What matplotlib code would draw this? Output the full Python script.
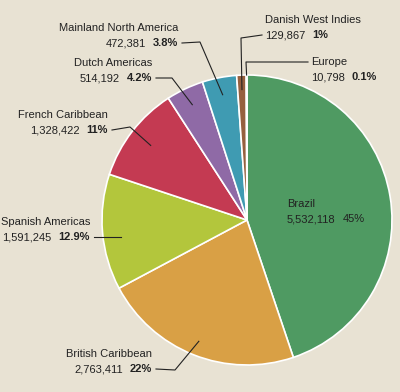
import numpy as np
import matplotlib.pyplot as plt

regions = ["Brazil", "British Caribbean", "Spanish Americas", "French Caribbean",
           "Dutch Americas", "Mainland North America", "Danish West Indies", "Europe"]
counts = [5532118, 2763411, 1591245, 1328422, 514192, 472381, 129867, 10798]
pct_labels = ["45%", "22%", "12.9%", "11%", "4.2%", "3.8%", "1%", "0.1%"]
colors = ["#4f9a62", "#d9a045", "#b3c63c", "#c43a52", "#8f6aa6", "#3f9bb2", "#96603e", "#c9a070"]

W, H = 400, 392
cx, cy, R = 247, H - 220, 145

plt.rcParams["font.family"] = ["Liberation Sans", "DejaVu Sans"]

fig = plt.figure(figsize=(4, 3.92), dpi=100, facecolor="#e8e2d3")
ax = fig.add_axes([0, 0, 1, 1])

wedges, _ = ax.pie(counts, colors=colors, startangle=90, counterclock=False,
                   center=(cx, cy), radius=R, frame=True,
                   wedgeprops=dict(edgecolor="white", linewidth=1.2))
ax.set_xlim(0, W)
ax.set_ylim(0, H)
ax.set_aspect("equal")
ax.axis("off")

fig.canvas.draw()
renderer = fig.canvas.get_renderer()


def width_px(t):
    return t.get_window_extent(renderer).width


# label layout: (text x, text y in pixels from top, ha, elbow x, elbow y, anchor radius fraction)
layout = {
    "Brazil": (287, 204, "left", None, None, None),
    "Mainland North America": (178, 28, "right", 200, 42, 0.88),
    "Danish West Indies": (265, 20, "left", 241, 38, 0.9),
    "Europe": (311, 62, "left", 246, 62, 1.0),
    "Dutch Americas": (152, 63, "right", 172, 78, 0.88),
    "French Caribbean": (108, 115, "right", 130, 127, 0.84),
    "Spanish Americas": (90, 222, "right", None, None, 0.87),
    "British Caribbean": (152, 354, "right", 175, 370, 0.9),
}

fs = 8
ink = "#222222"
gap = 7
for w, name, n, p in zip(wedges, regions, counts, pct_labels):
    tx, ty, ha, ex, ey, f = layout[name]
    num = f"{n:,}"
    ly = ty + 15
    ax.text(tx, H - ty, name, fontsize=fs, color=ink, ha=ha, va="center")
    if ha == "left":
        t = ax.text(tx, H - ly, num, fontsize=fs, color=ink, ha="left", va="center")
        ax.text(tx + width_px(t) + gap, H - ly, p, fontsize=fs, color=ink,
                weight="normal" if name == "Brazil" else "bold", ha="left", va="center")
    else:
        t = ax.text(tx, H - ly, p, fontsize=fs, color=ink, weight="bold", ha="right", va="center")
        ax.text(tx - width_px(t) - gap, H - ly, num, fontsize=fs, color=ink, ha="right", va="center")
    if f is None:
        continue
    mid = np.deg2rad((w.theta1 + w.theta2) / 2)
    axp, ayp = cx + R * f * np.cos(mid), cy + R * f * np.sin(mid)
    if name == "Europe":
        start = (tx - 3, H - ty)
    elif ha == "left":
        start = (tx - 3, H - ly)
    else:
        start = (tx + 4, H - ly)
    if ex is None:
        xs, ys = [start[0], axp], [start[1], start[1]]
    else:
        xs, ys = [start[0], ex, axp], [start[1], H - ey, ayp]
    ax.plot(xs, ys, color=ink, lw=0.8)

fig.savefig("out.png", dpi=100, facecolor=fig.get_facecolor())
